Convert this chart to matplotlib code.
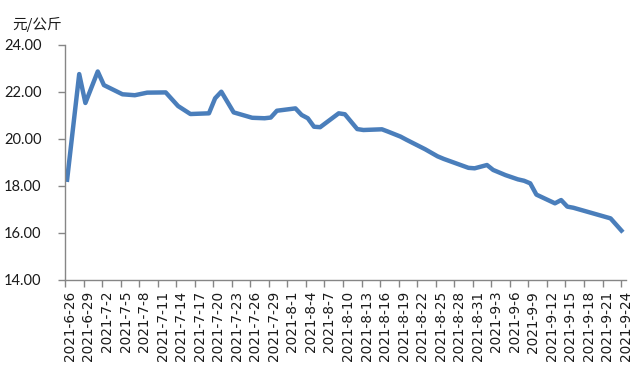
import matplotlib
matplotlib.use("Agg")
import matplotlib.pyplot as plt
import pandas as pd
import numpy as np

# ---- data ----
dates = ["2021-6-26", "2021-6-28", "2021-6-29", "2021-7-1", "2021-7-2", "2021-7-5",
         "2021-7-7", "2021-7-9", "2021-7-12", "2021-7-14", "2021-7-16", "2021-7-19",
         "2021-7-20", "2021-7-21", "2021-7-23", "2021-7-26", "2021-7-28", "2021-7-29",
         "2021-7-30", "2021-8-2", "2021-8-3", "2021-8-4", "2021-8-5", "2021-8-6",
         "2021-8-9", "2021-8-10", "2021-8-12", "2021-8-13", "2021-8-16", "2021-8-17",
         "2021-8-19", "2021-8-20", "2021-8-23", "2021-8-25", "2021-8-26", "2021-8-30",
         "2021-8-31", "2021-9-2", "2021-9-3", "2021-9-5", "2021-9-7", "2021-9-8",
         "2021-9-9", "2021-9-10", "2021-9-13", "2021-9-14", "2021-9-15", "2021-9-16",
         "2021-9-22", "2021-9-24"]
prices = [18.16, 22.75, 21.52, 22.86, 22.28, 21.89,
          21.85, 21.96, 21.97, 21.39, 21.05, 21.08,
          21.72, 22.00, 21.12, 20.89, 20.87, 20.90,
          21.19, 21.29, 21.01, 20.87, 20.51, 20.49,
          21.08, 21.04, 20.41, 20.37, 20.40, 20.30,
          20.09, 19.95, 19.55, 19.25, 19.14, 18.76,
          18.74, 18.88, 18.67, 18.45, 18.27, 18.21,
          18.10, 17.62, 17.25, 17.39, 17.11, 17.06,
          16.61, 16.02]
start_date = "2021-6-26"
end_date = "2021-9-24"
tick_step_days = 3
y_ticks = [14, 16, 18, 20, 22, 24]
unit_label = "元/公斤"

# ---- derived positions ----
d0 = pd.Timestamp(start_date)
day_idx = np.array([(pd.Timestamp(d) - d0).days for d in dates])
n_days = (pd.Timestamp(end_date) - d0).days
tick_days = np.arange(0, n_days + 1, tick_step_days)
tick_dates = [d0 + pd.Timedelta(days=int(t)) for t in tick_days]
tick_labels = [f"{t.year}-{t.month}-{t.day}" for t in tick_dates]

fig = plt.figure(figsize=(6.4, 3.83), dpi=100)
ax = fig.add_axes([65/640, 1 - 279.7/383, (626-65)/640, (279.7-44.7)/383])

ax.plot(day_idx + 0.3, prices, color="#4a7ebb", linewidth=3.2,
        solid_joinstyle="round", solid_capstyle="butt")

ax.set_xlim(0, n_days + 0.7)
ax.set_ylim(14, 24)

axis_col = "#868686"
for s in ["top", "right"]:
    ax.spines[s].set_visible(False)
for s in ["left", "bottom"]:
    ax.spines[s].set_color(axis_col)
    ax.spines[s].set_linewidth(1.0)

# y axis
ax.set_yticks(y_ticks)
ax.set_yticklabels([f"{v:.2f}" for v in y_ticks], fontsize=10.5, family="Lato", color="#1a1a1a")
ax.tick_params(axis="y", direction="out", length=5, width=1, color=axis_col, pad=12)

# x axis: tick marks at band edges, labels slightly right
ax.set_xticks(tick_days)
ax.set_xticklabels([])
ax.tick_params(axis="x", which="major", direction="out", length=5, width=1, color=axis_col)
ax.set_xticks(tick_days + 0.8, minor=True)
ax.set_xticklabels(tick_labels, minor=True, rotation=90, fontsize=9.8,
                   family="DejaVu Sans", color="#1a1a1a")
ax.tick_params(axis="x", which="minor", length=0, pad=8)

fig.text(12/640, 1 - 24/383, unit_label, fontsize=10.5,
         family=["Noto Sans CJK SC", "DejaVu Sans"], va="center", ha="left", color="#1a1a1a")

fig.savefig("out.png", dpi=100)
